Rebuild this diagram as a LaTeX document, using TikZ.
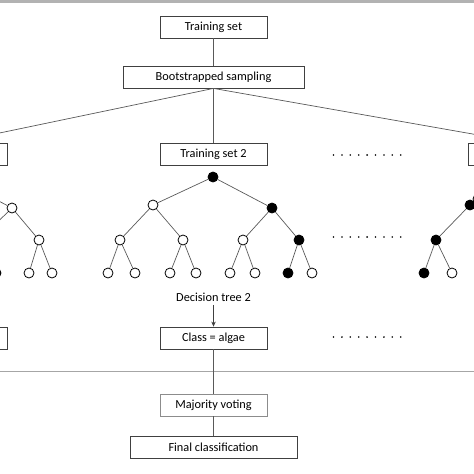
\documentclass[tikz,border=0pt]{standalone}
\usepackage{fontspec}
\setmainfont{Carlito}
\usetikzlibrary{arrows.meta}
\begin{document}
\begin{tikzpicture}[x=1pt,y=-1pt,
    rfBox/.style={draw=black!75,line width=0.8pt,minimum width=107pt,minimum height=22pt,inner sep=0pt,font=\fontsize{12.3}{14}\selectfont},
    rfLine/.style={draw=black!65,line width=0.7pt},
    openNd/.style={circle,draw=black,line width=0.8pt,fill=white,minimum size=10pt,inner sep=0pt},
    fullNd/.style={openNd,fill=black},
]
\useasboundingbox (0,0) rectangle (474,474);
\clip (0,0) rectangle (474,474);
\fill[black!30] (0,0) rectangle (474,2.5);
% boxes
\node[rfBox] (train) at (213.5,27) {Training set};
\node[rfBox,minimum width=181pt] (boot) at (213.5,77) {Bootstrapped sampling};
\node[rfBox] (set1) at (-46.5,154) {};
\node[rfBox] (set2) at (213.5,154) {Training set 2};
\node[rfBox] (setN) at (521.5,154) {};
\draw[rfLine] (train) -- (boot);
\draw[rfLine] (boot.south) -- (set1.north);
\draw[rfLine] (boot.south) -- (set2.north);
\draw[rfLine] (boot.south) -- (setN.north);
% tree 1 (cut off)
\node[openNd] (t1r) at (-47,177) {};
\node[openNd] (t1b) at (12,208) {};
\node[openNd] (t1ba) at (-21,240) {};
\node[openNd] (t1bb) at (39,240) {};
\node[openNd] (t1baa) at (-33,273) {};
\node[fullNd] (t1bab) at (-4,273) {};
\node[openNd] (t1bba) at (29,273) {};
\node[openNd] (t1bbb) at (52,273) {};
\draw[rfLine] (t1r) -- (t1b);
\draw[rfLine] (t1b) -- (t1ba);
\draw[rfLine] (t1b) -- (t1bb);
\draw[rfLine] (t1ba) -- (t1baa);
\draw[rfLine] (t1ba) -- (t1bab);
\draw[rfLine] (t1bb) -- (t1bba);
\draw[rfLine] (t1bb) -- (t1bbb);
% tree 2
\node[fullNd] (t2r) at (213,177) {};
\node[openNd] (t2a) at (153,205) {};
\node[fullNd] (t2b) at (272,208) {};
\node[openNd] (t2aa) at (120,240) {};
\node[openNd] (t2ab) at (183,240) {};
\node[openNd] (t2ba) at (243,240) {};
\node[fullNd] (t2bb) at (299,240) {};
\node[openNd] (t2aaa) at (108,273) {};
\node[openNd] (t2aab) at (135,273) {};
\node[openNd] (t2aba) at (170,273) {};
\node[openNd] (t2abb) at (196,273) {};
\node[openNd] (t2baa) at (230,273) {};
\node[openNd] (t2bab) at (255,273) {};
\node[fullNd] (t2bba) at (288,273) {};
\node[openNd] (t2bbb) at (312,273) {};
\draw[rfLine] (t2r) -- (t2a);
\draw[rfLine] (t2r) -- (t2b);
\draw[rfLine] (t2a) -- (t2aa);
\draw[rfLine] (t2a) -- (t2ab);
\draw[rfLine] (t2b) -- (t2ba);
\draw[rfLine] (t2b) -- (t2bb);
\draw[rfLine] (t2aa) -- (t2aaa);
\draw[rfLine] (t2aa) -- (t2aab);
\draw[rfLine] (t2ab) -- (t2aba);
\draw[rfLine] (t2ab) -- (t2abb);
\draw[rfLine] (t2ba) -- (t2baa);
\draw[rfLine] (t2ba) -- (t2bab);
\draw[rfLine] (t2bb) -- (t2bba);
\draw[rfLine] (t2bb) -- (t2bbb);
% tree n (cut off)
\node[openNd] (tNb) at (478,199) {};
\node[fullNd] (tNa) at (470,205) {};
\node[fullNd] (tNaa) at (436,240) {};
\node[fullNd] (tNaaa) at (424,273) {};
\node[openNd] (tNaab) at (452,273) {};
\draw[rfLine] (tNa) -- (tNaa);
\draw[rfLine] (tNaa) -- (tNaaa);
\draw[rfLine] (tNaa) -- (tNaab);
% dots
\foreach \y in {155,237,337}
  \foreach \i in {0,...,8}
    \fill (333.5+\i*8.4,\y) circle (0.9);
% votes
\node[font=\fontsize{12.3}{14}\selectfont] (dt2) at (213.5,297) {Decision tree 2};
\node[rfBox] (class1) at (-46.5,338) {};
\node[rfBox] (class2) at (213.5,338) {Class = algae};
\draw[black!75,line width=0.7pt,-{Stealth[length=5pt,width=4.5pt]}] (dt2.south) -- (class2.north);
\draw[black!35,line width=0.9pt] (0,371) -- (474,371);
\node[rfBox,draw=black!45] (vote) at (213.5,405) {Majority voting};
\node[rfBox,minimum width=167pt] (final) at (213.5,447) {Final classification};
\draw[rfLine] (class2) -- (vote);
\draw[rfLine] (vote) -- (final);
\end{tikzpicture}
\end{document}
